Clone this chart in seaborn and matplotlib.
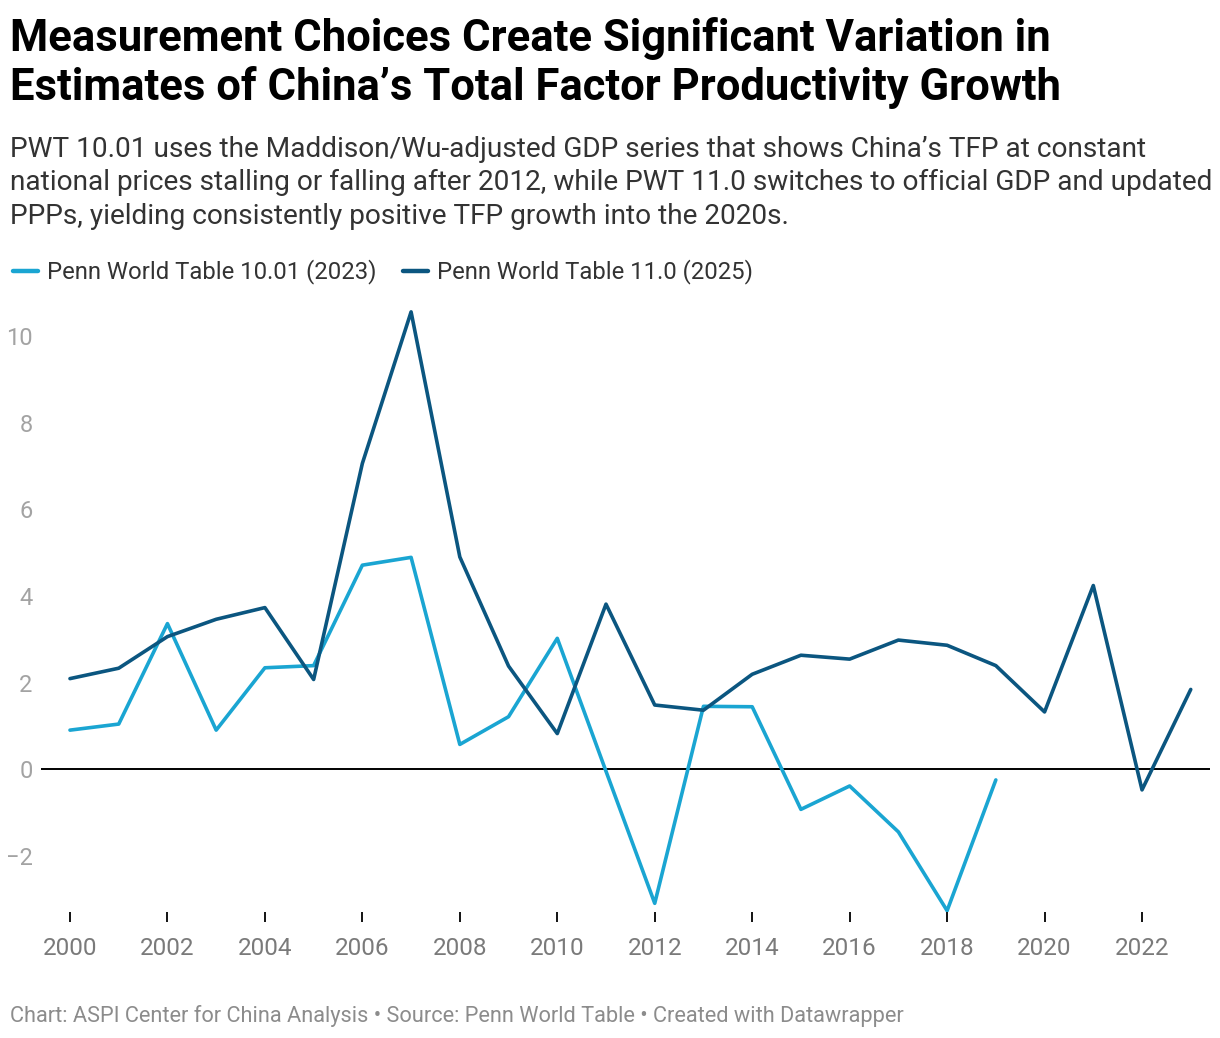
# Import libraries
import numpy as np
import pandas as pd
import matplotlib
matplotlib.use("Agg")
import matplotlib.pyplot as plt
import seaborn as sns
from matplotlib.lines import Line2D

# Data (TFP growth, %)
years = list(range(2000, 2024))
pwt_1001 = [0.90, 1.04, 3.36, 0.90, 2.34, 2.39, 4.71, 4.89, 0.57, 1.21, 3.02, -0.05,
            -3.10, 1.45, 1.44, -0.93, -0.39, -1.45, -3.27, -0.25,
            None, None, None, None]
pwt_110 = [2.09, 2.33, 3.06, 3.46, 3.73, 2.07, 7.06, 10.56, 4.90, 2.38, 0.82, 3.81,
           1.48, 1.36, 2.19, 2.63, 2.54, 2.98, 2.86, 2.39, 1.32, 4.24, -0.48, 1.84]
series_names = ["Penn World Table 10.01 (2023)", "Penn World Table 11.0 (2025)"]
series_colors = ["#1aa5d2", "#0b5680"]
x_ticks = list(range(2000, 2023, 2))
y_ticks = [-2, 0, 2, 4, 6, 8, 10]

title_lines = ["Measurement Choices Create Significant Variation in",
               "Estimates of China\u2019s Total Factor Productivity Growth"]
subtitle_lines = ["PWT 10.01 uses the Maddison/Wu-adjusted GDP series that shows China\u2019s TFP at constant",
                  "national prices stalling or falling after 2012, while PWT 11.0 switches to official GDP and updated",
                  "PPPs, yielding consistently positive TFP growth into the 2020s."]
footer = "Chart: ASPI Center for China Analysis \u2022 Source: Penn World Table \u2022 Created with Datawrapper"

# Long-form table for seaborn
df = pd.concat([
    pd.DataFrame({"Year": years, "TFP": pwt_1001, "Series": series_names[0]}),
    pd.DataFrame({"Year": years, "TFP": pwt_110, "Series": series_names[1]}),
]).dropna()

sns.set_style("white")
plt.rcParams['font.family'] = ['Roboto', 'DejaVu Sans']

W, H = 1220, 1038
fig = plt.figure(figsize=(W / 100, H / 100), dpi=100)
ax = fig.add_axes([0.0336, 0.1214, 0.958, 0.5819])

sns.lineplot(data=df, x="Year", y="TFP", hue="Series", hue_order=series_names,
             palette=dict(zip(series_names, series_colors)), linewidth=2.6,
             ax=ax, legend=False)

# Zero baseline
ax.axhline(0, color="black", linewidth=1.4, zorder=1)

ax.set_xlim(1999.405, 2023.39)
ax.set_ylim(-3.3, 10.65)
ax.set_xticks(x_ticks)
ax.set_yticks(y_ticks)
ax.set_yticklabels(["\u22122" if v < 0 else str(v) for v in y_ticks])
ax.tick_params(axis="x", length=7, width=1.3, color="black", pad=11,
               labelsize=17.5, labelcolor="#7a7a7a", direction="out", bottom=True)
ax.tick_params(axis="y", length=0, pad=6, labelsize=17, labelcolor="#a3a3a3")
for s in ax.spines.values():
    s.set_visible(False)
ax.grid(False)
ax.set_xlabel("")
ax.set_ylabel("")

# Title and subtitle, one line at a time on their baselines
for line, base in zip(title_lines, [50.7, 100.0]):
    fig.text(10 / W, 1 - base / H, line, fontsize=31.4, fontweight="bold",
             color="black", va="baseline", ha="left")
for line, base in zip(subtitle_lines, [156.7, 190.2, 223.7]):
    fig.text(10 / W, 1 - base / H, line, fontsize=20.2, color="#333333",
             va="baseline", ha="left")

# Legend
handles = [Line2D([0], [0], color=c, linewidth=3.2, solid_capstyle="round") for c in series_colors]
fig.legend(handles, series_names, loc="center left", bbox_to_anchor=(13 / W, 1 - 272 / H),
           ncol=2, frameon=False, fontsize=17.2, handlelength=1.05, handletextpad=0.38,
           columnspacing=1.1, labelcolor="#333333", borderaxespad=0, borderpad=0)

# Footer
fig.text(10 / W, 1 - 1021.7 / H, footer, fontsize=15.7, color="#8c8c8c",
         va="baseline", ha="left")

# Save the plot
fig.savefig("out.png", dpi=100)
